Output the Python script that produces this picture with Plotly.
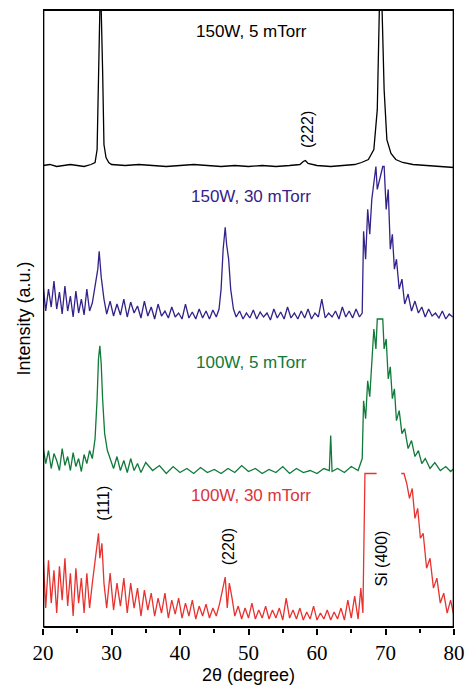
import plotly.graph_objects as go

# heights are in arbitrary units (stacked offsets already included)
x_black = [20, 21, 22, 23, 24, 25, 26, 27, 27.6, 27.9, 28.1, 28.3, 28.4, 28.5, 28.7, 28.9, 29.2, 29.6, 30,
           32, 34, 36, 38, 40, 42, 44, 46, 48, 50, 52, 54, 56, 57.5, 58.0, 58.3, 58.7, 60, 62, 64, 65.5,
           66.5, 67.5, 68.3, 68.8, 69.1, 69.3, 69.5, 69.8, 70.2, 70.8, 71.5, 72.5, 74, 76, 78, 80]
y_black = [464, 465, 463, 464, 465, 464, 463, 465, 467, 480, 560, 620, 620, 620, 560, 485, 472, 467, 465,
           464, 465, 464, 463, 464, 465, 464, 463, 464, 463, 464, 463, 464, 465, 468, 469, 466, 464, 463, 464, 465,
           467, 470, 480, 520, 620, 620, 620, 540, 490, 476, 470, 467, 465, 464, 463, 462]

x_blue = [20, 20.4, 20.8, 21.2, 21.6, 22, 22.4, 22.8, 23.2, 23.6, 24, 24.4, 24.8, 25.2, 25.6, 26, 26.4, 26.8,
          27.2, 27.6, 28.0, 28.2, 28.5, 28.9, 29.3, 29.8, 30.3, 30.8, 31.3, 31.8, 32.3, 32.8, 33.3, 33.8,
          34.3, 34.8, 35.3, 35.8, 36.3, 36.8, 37.3, 37.8, 38.3, 38.8, 39.3, 39.8, 40.3, 40.8, 41.3, 41.8,
          42.3, 42.8, 43.3, 43.8, 44.3, 44.8, 45.3, 45.7, 46.0, 46.3, 46.6, 46.8, 47.1, 47.4, 47.8, 48.2,
          48.7, 49.2, 49.7, 50.2, 50.7, 51.2, 51.7, 52.2, 52.7, 53.2, 53.7, 54.2, 54.7, 55.2, 55.7, 56.2,
          56.7, 57.2, 57.7, 58.2, 58.7, 59.2, 59.7, 60.2, 60.7, 61.2, 61.7, 62.2, 62.7, 63.2, 63.7, 64.2,
          64.7, 65.2, 65.7, 66.2, 66.6, 66.8, 67.1, 67.4, 67.7, 68.0, 68.3, 68.6, 68.8,
          69.6, 69.8, 70.1, 70.4, 70.7, 71.0, 71.3, 71.6, 72.0, 72.4, 72.8, 73.3, 73.8, 74.3, 74.8,
          75.3, 75.8, 76.3, 76.8, 77.3, 77.8, 78.3, 78.8, 79.3, 79.8, 80]
y_blue = [345, 318, 340, 322, 348, 320, 337, 315, 343, 318, 333, 312, 338, 316, 330, 314, 340, 318,
          326, 344, 360, 378, 352, 330, 315, 328, 313, 325, 314, 330, 312, 327, 316, 323, 311, 328,
          313, 322, 310, 325, 313, 318, 311, 322, 312, 316, 310, 325, 311, 317, 310, 320, 311, 318,
          310, 319, 312, 320, 340, 380, 402, 385, 370, 340, 320, 312, 318, 310, 316, 311, 319, 310,
          317, 312, 316, 309, 320, 311, 317, 310, 322, 311, 316, 310, 318, 311, 320, 310, 316, 312,
          330, 311, 316, 312, 318, 310, 322, 312, 318, 311, 320, 312, 316, 398, 370, 420, 395, 430,
          445, 463, 440, 463, 463, 420, 440, 380, 395, 360, 370, 340, 350, 325, 335, 318, 328, 316,
          322, 312, 320, 313, 316, 311, 318, 310, 315, 312]

x_green = [20, 20.4, 20.8, 21.2, 21.6, 22, 22.4, 22.8, 23.2, 23.6, 24, 24.4, 24.8, 25.2, 25.6, 26, 26.4,
           26.8, 27.2, 27.6, 27.9, 28.1, 28.3, 28.5, 28.7, 29.0, 29.4, 29.8, 30.3, 30.8, 31.3, 31.8, 32.3,
           32.8, 33.3, 33.8, 34.3, 35, 36, 37, 38, 39, 40, 41, 42, 43, 44, 45, 46, 47, 48, 49, 50, 51, 52,
           53, 54, 55, 56, 57, 58, 59, 60, 61, 61.8, 62.0, 62.2, 63, 64, 65, 66, 66.6, 66.8, 67.1, 67.4,
           67.7, 68.0, 68.3, 68.6, 68.8, 69.6, 69.8, 70.1, 70.4, 70.7, 71.0, 71.3, 71.6, 72.0, 72.4, 72.8,
           73.3, 73.8, 74.3, 74.8, 75.3, 75.8, 76.5, 77.2, 78, 78.8, 79.5, 80]
y_green = [182, 165, 178, 160, 175, 168, 158, 180, 163, 172, 158, 176, 162, 170, 157, 174, 165, 178,
           170, 190, 230, 270, 283, 265, 230, 195, 178, 170, 160, 172, 158, 168, 156, 170, 158, 165,
           156, 166, 158, 163, 155, 162, 156, 160, 155, 161, 156, 159, 155, 160, 156, 163, 157, 160,
           155, 159, 156, 162, 155, 160, 156, 158, 155, 160, 158, 193, 157, 160, 156, 162, 158, 170, 228,
           210, 248, 232, 270, 300, 280, 310, 310, 280, 290, 250, 262, 230, 240, 208, 218, 195, 200, 180,
           188, 172, 178, 165, 170, 160, 166, 158, 162, 157, 160]

x_red = [20, 20.4, 20.8, 21.2, 21.6, 22, 22.4, 22.8, 23.2, 23.6, 24, 24.4, 24.8, 25.2, 25.6, 26, 26.4, 26.8,
         27.2, 27.6, 27.9, 28.1, 28.3, 28.6, 28.9, 29.3, 29.8, 30.3, 30.8, 31.3, 31.8, 32.3, 32.8, 33.3, 33.8,
         34.3, 34.8, 35.3, 35.8, 36.3, 36.8, 37.3, 37.8, 38.3, 38.8, 39.3, 39.8, 40.3, 40.8, 41.3, 41.8,
         42.3, 42.8, 43.3, 43.8, 44.3, 44.8, 45.3, 45.8, 46.2, 46.6, 46.9, 47.2, 47.6, 48.0, 48.5, 49,
         49.5, 50, 50.5, 51, 51.5, 52, 52.5, 53, 53.5, 54, 54.5, 55, 55.5, 56, 56.5, 57, 57.5, 58, 58.5, 59,
         59.5, 60, 60.5, 61, 61.5, 62, 62.5, 63, 63.5, 64, 64.5, 65, 65.5, 66, 66.4, 66.7, 67, 68.6,
         68.7, 70.9, 71.0, 72.3, 72.7, 73.1, 73.5, 73.9, 74.3, 74.7, 75.1, 75.5, 76, 76.5, 77, 77.5,
         78, 78.5, 79, 79.5, 80]
y_red = [75, 20, 68, 25, 58, 15, 62, 28, 70, 22, 55, 12, 60, 25, 50, 15, 55, 20, 45, 65, 80, 95, 70, 85,
         45, 20, 55, 18, 45, 22, 50, 15, 45, 20, 40, 12, 38, 18, 35, 12, 30, 15, 35, 10, 28, 14, 30, 10,
         25, 12, 28, 9, 22, 12, 24, 10, 20, 12, 25, 40, 51, 20, 45, 30, 12, 22, 9, 20, 10, 25, 9, 18, 10,
         22, 9, 18, 10, 20, 8, 30, 10, 18, 9, 20, 8, 16, 9, 22, 8, 15, 9, 18, 8, 16, 9, 20, 8, 28, 10,
         32, 9, 40, 15, 155, 155, 155, None, None, 155, 155, 145, 130, 140, 110, 120, 90, 95, 60, 70, 40,
         50, 25, 35, 15, 28, 12, 30, 10]

x_range = [20, 80]
y_range = [0, 621]

colors = ["#000000", "#34218a", "#107a3a", "#e8322f"]
series = [(x_black, y_black), (x_blue, y_blue), (x_green, y_green), (x_red, y_red)]

fig = go.Figure()
for (xs, ys), c in zip(series, colors):
    fig.add_trace(go.Scatter(x=xs, y=ys, mode="lines", line=dict(color=c, width=1.3),
                             connectgaps=False, showlegend=False))

# frame around the plot area, pulled a hair inside the axis range so it is drawn
fx = [20.05, 79.95, 79.95, 20.05, 20.05]
fy = [1, 1, 620, 620, 1]
fig.add_trace(go.Scatter(x=fx, y=fy, mode="lines", line=dict(color="black", width=2),
                         showlegend=False, hoverinfo="skip"))

labels = [("150W, 5 mTorr", 598, "#000000"), ("150W, 30 mTorr", 433, "#34218a"),
          ("100W, 5 mTorr", 266, "#107a3a"), ("100W, 30 mTorr", 133, "#d9343a")]
for txt, yy, c in labels:
    fig.add_annotation(x=50.4, y=yy, text=txt, showarrow=False, font=dict(size=17, color=c, family="Arial"))

peaks = [("(222)", 58.6, 500), ("(111)", 28.8, 125), ("(220)", 47.0, 82), ("Si (400)", 69.4, 70)]
for txt, xx, yy in peaks:
    fig.add_annotation(x=xx, y=yy, text=txt, showarrow=False, textangle=-90,
                       font=dict(size=16, color="black", family="Arial"))

fig.update_layout(
    width=458, height=683, plot_bgcolor="white", paper_bgcolor="white", autosize=False,
    margin=dict(l=35, r=12, t=1, b=63),
)
fig.update_xaxes(range=x_range, dtick=10, ticks="outside", ticklen=6, tickwidth=2, tickcolor="black",
                 minor=dict(dtick=5, ticks="outside", ticklen=4, tickwidth=2, tickcolor="black"),
                 showgrid=False, zeroline=False,
                 tickfont=dict(family="Liberation Serif", size=21, color="black"),
                 title=dict(text="2θ (degree)", font=dict(family="Arial", size=18, color="black"), standoff=2))
fig.update_yaxes(range=y_range, showticklabels=False, ticks="", showgrid=False, zeroline=False,
                 title=dict(text="Intensity (a.u.)", font=dict(family="Arial", size=18, color="black"), standoff=6))

fig.write_html("out.html")
